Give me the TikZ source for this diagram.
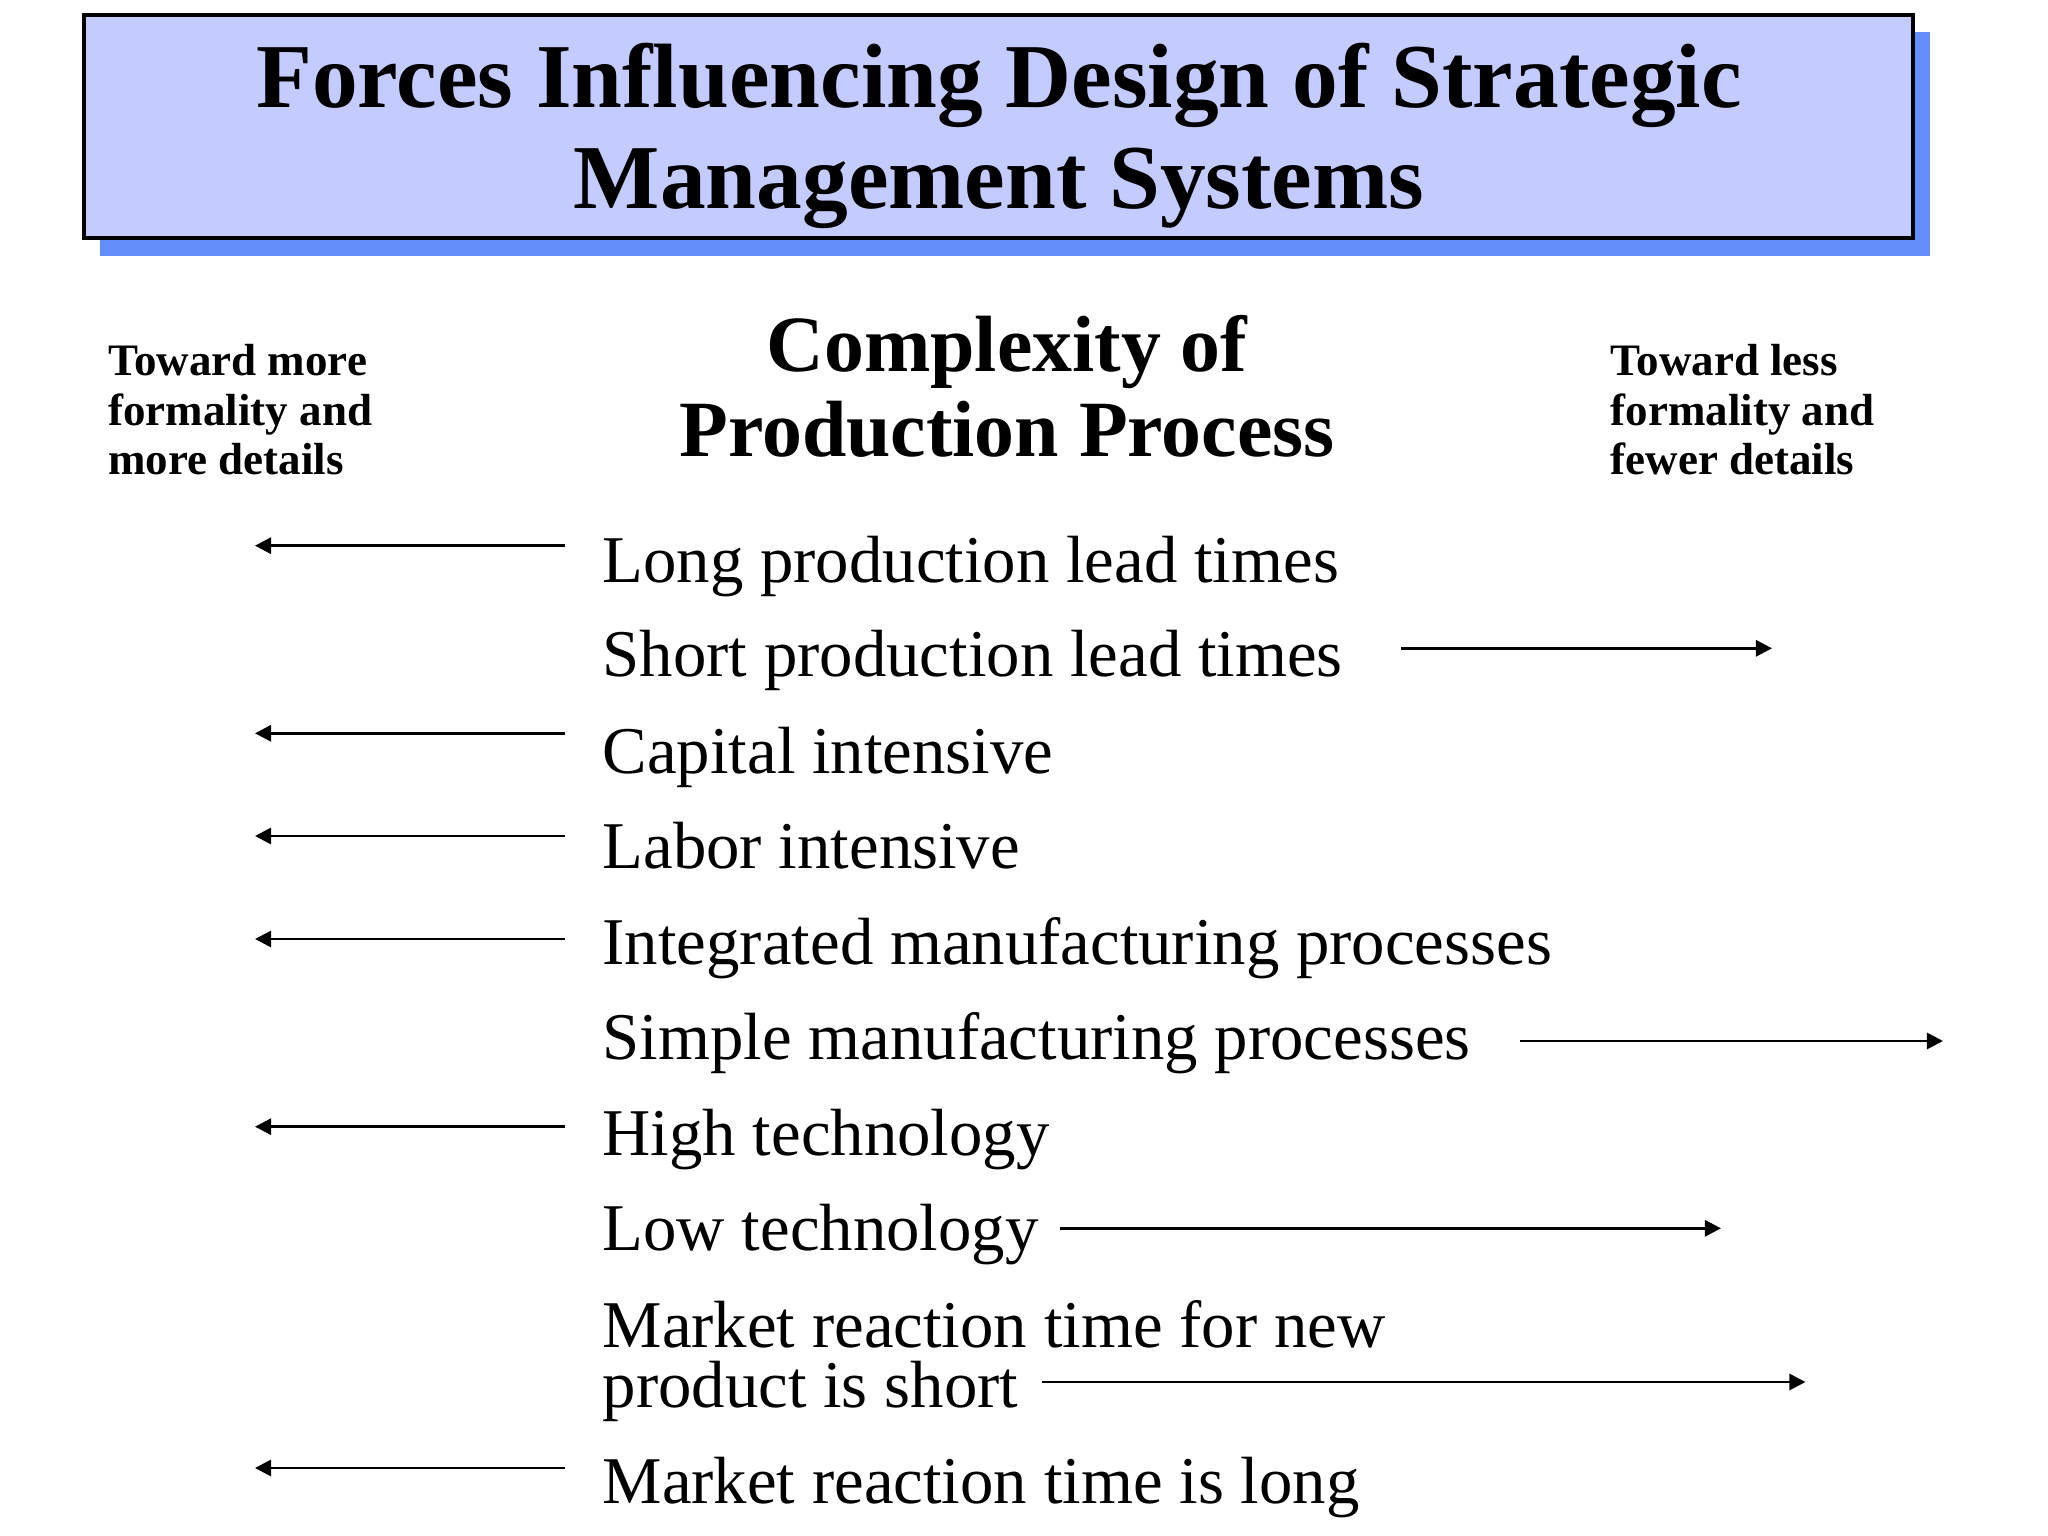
\documentclass[tikz,border=0pt]{standalone}
\usepackage{fontspec}
\setmainfont{Liberation Serif}
\usetikzlibrary{arrows.meta}
\definecolor{boxfill}{RGB}{196,204,255}
\definecolor{boxshadow}{RGB}{100,142,250}
\tikzset{
  titletext/.style={font=\bfseries\fontsize{26}{28.7}\selectfont, align=center, inner sep=0pt, anchor=base},
  subhead/.style={font=\bfseries\fontsize{22.7}{24.3}\selectfont, align=center, inner sep=0pt, anchor=base},
  sidelabel/.style={font=\bfseries\fontsize{12.8}{14.2}\selectfont, align=left, inner sep=0pt, anchor=base west},
  item/.style={font=\fontsize{19}{17}\selectfont, align=left, inner sep=0pt, anchor=base west},
  arr/.style={line width=0.8pt, -{Triangle[length=4.6pt,width=4.6pt]}},
  shadowbox/.style={fill=boxshadow, draw=none, inner sep=0pt},
  titlebox/.style={fill=boxfill, draw=black, line width=1pt, inner sep=0pt}
}
\begin{document}
\begin{tikzpicture}[x=1cm,y=1cm]
\useasboundingbox (0,0) rectangle (20.48,-15.36);
\fill[white] (0,0) rectangle (20.48,-15.36);
% title box
\node[shadowbox, minimum width=18.30cm, minimum height=2.24cm] (shadow) at (10.15,-1.44) {};
\node[titlebox, minimum width=18.29cm, minimum height=2.23cm] (box) at (9.985,-1.265) {};
% multi-line nodes: base anchor is the baseline of the last line
\node[titletext] (title) at (9.99,-2.083) {Forces Influencing Design of Strategic\\Management Systems};
% headings
\node[subhead] (sub) at (10.07,-4.567) {Complexity of\\Production Process};
\node[sidelabel] (left) at (1.077,-4.75) {Toward more\\formality and\\more details};
\node[sidelabel] (right) at (16.10,-4.75) {Toward less\\formality and\\fewer details};
% items
\node[item] (i1) at (6.02,-5.827) {Long production lead times};
\node[item] (i2) at (6.02,-6.767) {Short production lead times};
\node[item] (i3) at (6.02,-7.733) {Capital intensive};
\node[item] (i4) at (6.02,-8.683) {Labor intensive};
\node[item] (i5) at (6.02,-9.64) {Integrated manufacturing processes};
\node[item] (i6) at (6.02,-10.593) {Simple manufacturing processes};
\node[item] (i7) at (6.02,-11.55) {High technology};
\node[item] (i8) at (6.02,-12.50) {Low technology};
\node[item] (i9) at (6.02,-14.073) {Market reaction time for new\\product is short};
\node[item] (i10) at (6.02,-15.033) {Market reaction time is long};
% arrow end points
\coordinate (l1s) at (5.645,-5.457);  \coordinate (l1e) at (2.55,-5.457);
\coordinate (l3s) at (5.645,-7.333);  \coordinate (l3e) at (2.55,-7.333);
\coordinate (l4s) at (5.645,-8.36);   \coordinate (l4e) at (2.55,-8.36);
\coordinate (l5s) at (5.645,-9.39);   \coordinate (l5e) at (2.55,-9.39);
\coordinate (l7s) at (5.645,-11.267); \coordinate (l7e) at (2.55,-11.267);
\coordinate (l10s) at (5.645,-14.68); \coordinate (l10e) at (2.55,-14.68);
\coordinate (r2s) at (14.01,-6.483);  \coordinate (r2e) at (17.72,-6.483);
\coordinate (r6s) at (15.20,-10.41);  \coordinate (r6e) at (19.43,-10.41);
\coordinate (r8s) at (10.595,-12.283); \coordinate (r8e) at (17.21,-12.283);
\coordinate (r9s) at (10.42,-13.82);  \coordinate (r9e) at (18.055,-13.82);
% arrows
\draw[arr] (l1s) -- (l1e);
\draw[arr] (l3s) -- (l3e);
\draw[arr] (l4s) -- (l4e);
\draw[arr] (l5s) -- (l5e);
\draw[arr] (l7s) -- (l7e);
\draw[arr] (l10s) -- (l10e);
\draw[arr] (r2s) -- (r2e);
\draw[arr] (r6s) -- (r6e);
\draw[arr] (r8s) -- (r8e);
\draw[arr] (r9s) -- (r9e);
\end{tikzpicture}
\end{document}
